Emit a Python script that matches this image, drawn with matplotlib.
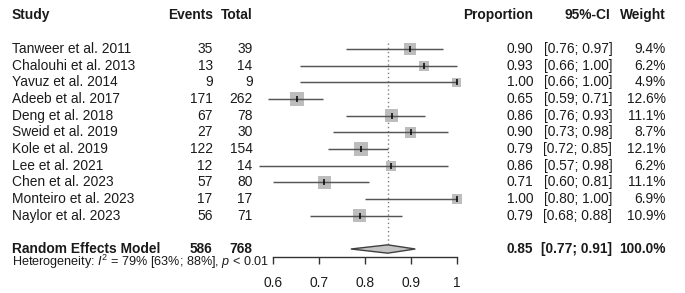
import matplotlib
matplotlib.use('Agg')
import matplotlib.pyplot as plt
import matplotlib.transforms as mtransforms
from matplotlib.patches import Polygon
import numpy as np

plt.rcParams['font.family'] = ['Liberation Sans', 'DejaVu Sans']
plt.rcParams['mathtext.fontset'] = 'custom'
plt.rcParams['mathtext.rm'] = 'Liberation Sans'
plt.rcParams['mathtext.it'] = 'Liberation Sans:italic'
plt.rcParams['mathtext.bf'] = 'Liberation Sans:bold'

# ---------------- data ----------------
studies = ["Tanweer et al. 2011", "Chalouhi et al. 2013", "Yavuz et al. 2014",
           "Adeeb et al. 2017", "Deng et al. 2018", "Sweid et al. 2019",
           "Kole et al. 2019", "Lee et al. 2021", "Chen et al. 2023",
           "Monteiro et al. 2023", "Naylor et al. 2023"]
events = [35, 13, 9, 171, 67, 27, 122, 12, 57, 17, 56]
totals = [39, 14, 9, 262, 78, 30, 154, 14, 80, 17, 71]
ci_lo = [0.76, 0.66, 0.66, 0.59, 0.76, 0.73, 0.72, 0.57, 0.60, 0.80, 0.68]
ci_hi = [0.97, 1.00, 1.00, 0.71, 0.93, 0.98, 0.85, 0.98, 0.81, 1.00, 0.88]
weights = [9.4, 6.2, 4.9, 12.6, 11.1, 8.7, 12.1, 6.2, 11.1, 6.9, 10.9]

pooled_label = "Random Effects Model"
pooled_events = 586
pooled_total = 768
pooled_est = 0.85
pooled_lo = 0.77
pooled_hi = 0.91
pooled_weight = 100.0
heterogeneity = r"Heterogeneity: $I^2$ = 79% [63%; 88%], $p$ < 0.01"

headers = ["Study", "Events", "Total", "Proportion", "95%-CI", "Weight"]
x_ticks = [0.6, 0.7, 0.8, 0.9, 1.0]
x_ticklabels = ["0.6", "0.7", "0.8", "0.9", "1"]

# ---------------- layout ----------------
W, H = 685, 293
fig = plt.figure(figsize=(W / 100, H / 100), dpi=100)
ax = fig.add_axes([0, 0, 1, 1])
ax.patch.set_visible(False)
ax.set_xlim(0.00717, 1.4963)
ax.set_ylim(15.64, -1.94)

txt_color = '#1a1a1a'
fs = 9.9
trans = mtransforms.blended_transform_factory(fig.transFigure, ax.transData)

def fx(px):
    return px / W

col_study = fx(12)
col_events = fx(212.7)
col_total = fx(252.5)
col_prop = fx(533.3)
col_ci = fx(612.3)
col_ci_head = fx(610.5)
col_w = fx(665.5)

header_y = -1.02
for label, x, ha in zip(headers,
                        [col_study, col_events, col_total, col_prop, col_ci_head, col_w],
                        ['left', 'right', 'right', 'right', 'right', 'right']):
    ax.text(x, header_y, label, transform=trans, ha=ha, va='center',
            fontsize=fs, fontweight='bold', color=txt_color)

rows = np.arange(1, len(studies) + 1)
props = np.array(events) / np.array(totals)

for r, s, e, t, p, lo, hi, w in zip(rows, studies, events, totals, props, ci_lo, ci_hi, weights):
    ax.text(col_study, r, s, transform=trans, ha='left', va='center', fontsize=fs, color=txt_color)
    ax.text(col_events, r, f"{e}", transform=trans, ha='right', va='center', fontsize=fs, color=txt_color)
    ax.text(col_total, r, f"{t}", transform=trans, ha='right', va='center', fontsize=fs, color=txt_color)
    ax.text(col_prop, r, f"{p:.2f}", transform=trans, ha='right', va='center', fontsize=fs, color=txt_color)
    ax.text(col_ci, r, f"[{lo:.2f}; {hi:.2f}]", transform=trans, ha='right', va='center', fontsize=fs, color=txt_color)
    ax.text(col_w, r, f"{w:.1f}%", transform=trans, ha='right', va='center', fontsize=fs, color=txt_color)

# squares (area proportional to weight)
side_pt = 3.9 * np.sqrt(weights) * 0.72
ax.scatter(props, rows, s=side_pt ** 2, marker='s', color='#bdbdbd', linewidths=0, zorder=2)
# CI lines
ax.hlines(rows, ci_lo, ci_hi, color='#555555', lw=1.05, zorder=3)
# point marks
ax.scatter(props, rows, s=14, marker='|', color='black', linewidths=1.1, zorder=4)

# pooled row
pr = len(studies) + 2
ax.text(col_study, pr, pooled_label, transform=trans, ha='left', va='center', fontsize=fs, fontweight='bold', color=txt_color)
ax.text(col_events, pr, f"{pooled_events}", transform=trans, ha='right', va='center', fontsize=fs, fontweight='bold', color=txt_color)
ax.text(col_total, pr, f"{pooled_total}", transform=trans, ha='right', va='center', fontsize=fs, fontweight='bold', color=txt_color)
ax.text(col_prop, pr, f"{pooled_est:.2f}", transform=trans, ha='right', va='center', fontsize=fs, fontweight='bold', color=txt_color)
ax.text(col_ci, pr, f"[{pooled_lo:.2f}; {pooled_hi:.2f}]", transform=trans, ha='right', va='center', fontsize=fs, fontweight='bold', color=txt_color)
ax.text(col_w, pr, f"{pooled_weight:.1f}%", transform=trans, ha='right', va='center', fontsize=fs, fontweight='bold', color=txt_color)

dh = 0.25
diamond = Polygon([[pooled_lo, pr], [pooled_est, pr - dh], [pooled_hi, pr], [pooled_est, pr + dh]],
                  closed=True, facecolor='#c4c4c4', edgecolor='#404040', lw=1.0, zorder=3)
ax.add_patch(diamond)

# reference dotted line at pooled estimate
ax.vlines(pooled_est, 0.64, pr - dh, color='#808080', lw=1.0, linestyles=(0, (1, 2)), zorder=1)

ax.text(col_study, pr + 0.77, heterogeneity, transform=trans, ha='left', va='center',
        fontsize=9.1, color=txt_color)

# x axis
for side in ['top', 'left', 'right']:
    ax.spines[side].set_visible(False)
ax.spines['bottom'].set_position(('data', pr + 0.5))
ax.spines['bottom'].set_bounds(x_ticks[0], x_ticks[-1])
ax.spines['bottom'].set_color('#333333')
ax.spines['bottom'].set_linewidth(1.0)
ax.set_xticks(x_ticks, x_ticklabels)
ax.set_yticks([])
ax.tick_params(axis='x', direction='out', length=5.3, width=1.0, color='#333333',
               labelsize=fs, labelcolor=txt_color, pad=8)

fig.savefig('out.png', dpi=100)
